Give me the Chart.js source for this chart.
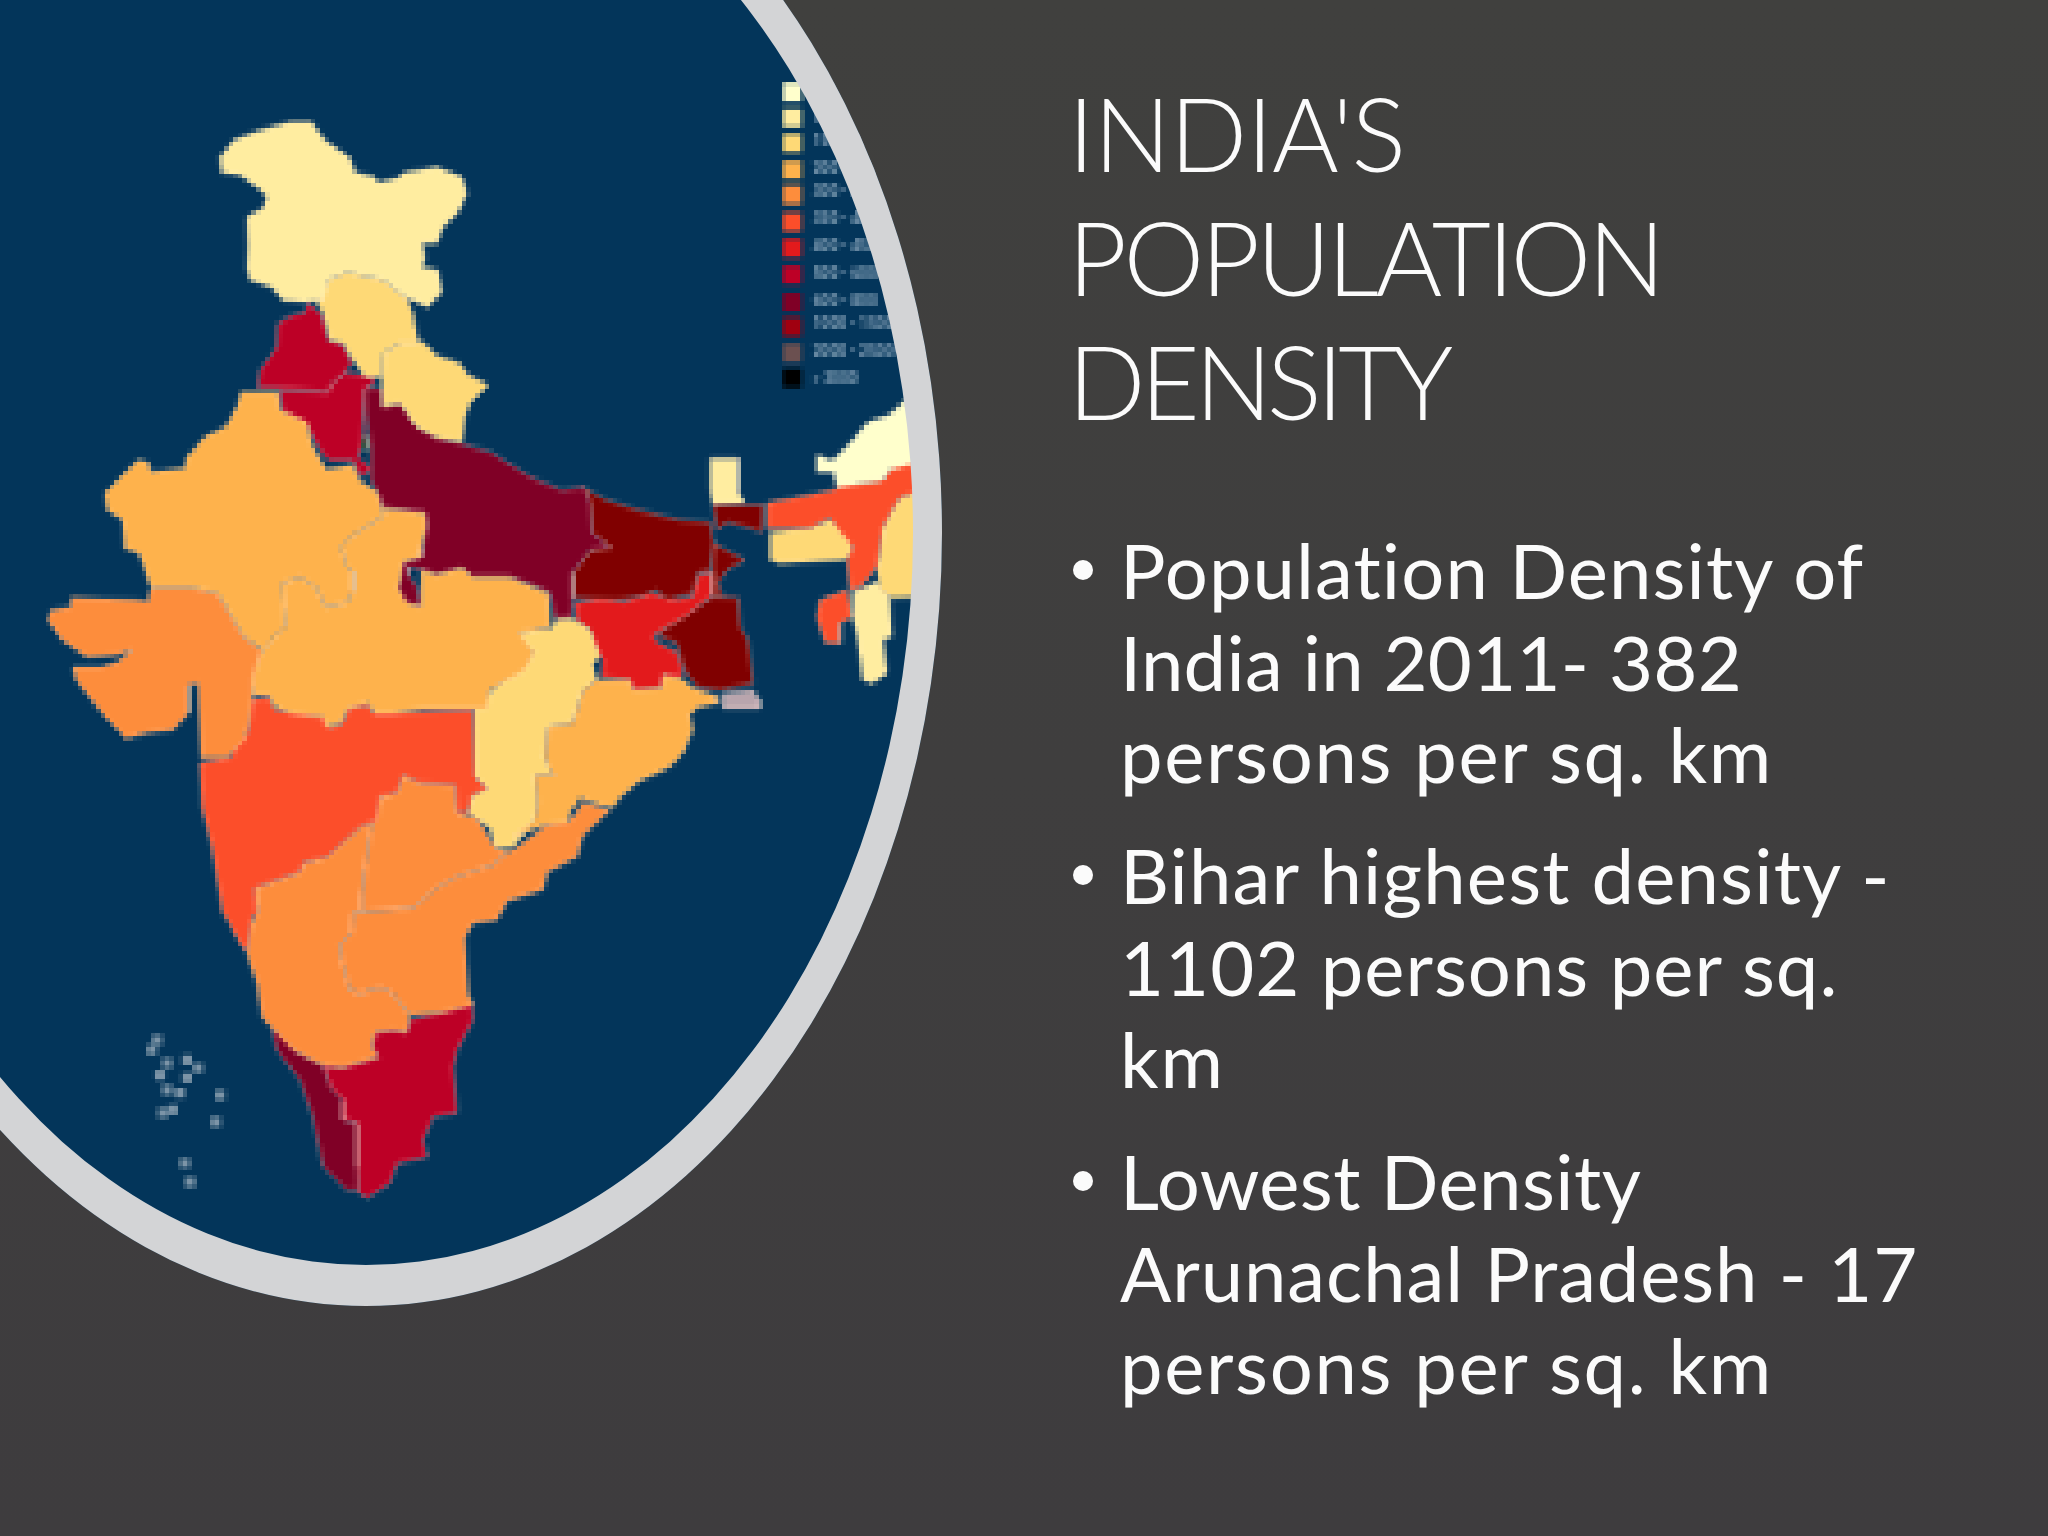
<!DOCTYPE html>
<html>
<head>
<meta charset="utf-8">
<title>India's Population Density</title>
<script src="https://cdn.jsdelivr.net/npm/chart.js@4/dist/chart.umd.min.js"></script>
<style>
  html, body { margin:0; padding:0; width:2048px; height:1536px; overflow:hidden; }
  body { position:relative; background:linear-gradient(#40403e, #3e3c3e); color:#fbfbfb; font-family:Lato, sans-serif; font-variant-ligatures:none; }
  #oval-fill, #oval-ring { position:absolute; left:-210px; top:-240px; width:1152px; height:1546px; box-sizing:border-box; border-radius:50%; }
  #oval-fill { background:#03355a; }
  #oval-ring { border-style:solid; border-color:#d3d4d6; border-width:41px 29px; pointer-events:none; }
  #map-wrap { position:absolute; left:0; top:0; width:2048px; height:1536px; clip-path:ellipse(576px 773px at 366px 533px); }
  #map { image-rendering:pixelated; filter:blur(0.7px); }
  #title { position:absolute; left:1068px; top:71px; font-size:102px; line-height:124px; font-weight:300; white-space:nowrap; }
  .bullet { position:absolute; left:1120px; font-size:76px; line-height:92px; letter-spacing:1.2px; white-space:nowrap; }
  .bullet::before { content:''; position:absolute; left:-47px; top:36px; width:20px; height:20px; border-radius:50%; background:#fbfbfb; }
</style>
</head>
<body>
<div id="oval-fill"></div>
<div id="map-wrap"><canvas id="map"></canvas></div>
<div id="oval-ring"></div>
<div id="title"><span style="letter-spacing:-0.9px">INDIA'S</span><br><span style="letter-spacing:-3.4px">POPULATION</span><br><span style="letter-spacing:-4.9px">DENSITY</span></div>
<div class="bullet" style="top:524px"><span style="letter-spacing:1.1px">Population Density of</span><br><span style="letter-spacing:.25px">India in 2011- 382</span><br><span style="letter-spacing:1.65px">persons per sq. km</span></div>
<div class="bullet" style="top:829px">Bihar highest density -<br><span style="letter-spacing:1px">1102 persons per sq.</span><br><span style="letter-spacing:2px">km</span></div>
<div class="bullet" style="top:1135px"><span style="letter-spacing:.45px">Lowest Density</span><br><span style="letter-spacing:.9px">Arunachal Pradesh - 17</span><br><span style="letter-spacing:1.65px">persons per sq. km</span></div>

<script>
// State outlines (x, y on the slide's own grid)
const rajasthan = [[241,392],[278,392],[280,410],[307,422],[312,445],[326,470],[353,465],[359,480],[378,493],[382,508],[384,515],[353,535],[341,547],[346,565],[353,572],[353,590],[348,602],[325,607],[317,587],[300,577],[282,583],[285,627],[273,638],[264,650],[244,637],[228,610],[218,593],[191,587],[151,587],[144,567],[139,553],[125,548],[123,520],[107,510],[105,493],[126,472],[137,460],[148,462],[151,472],[185,468],[187,457],[205,437],[225,427],[237,407]];
const madhyaPradesh = [[382,508],[425,513],[426,527],[421,547],[421,557],[403,562],[401,577],[398,587],[407,603],[421,607],[421,570],[437,575],[462,568],[473,577],[509,577],[548,593],[550,627],[519,633],[534,652],[525,670],[489,690],[487,708],[423,708],[394,713],[375,713],[368,703],[348,708],[341,723],[326,727],[323,717],[291,713],[273,705],[269,695],[253,695],[253,677],[262,650],[273,638],[285,627],[282,583],[300,577],[317,587],[325,607],[348,602],[353,590],[353,572],[346,565],[341,547],[353,535],[384,515]];
const gujarat = [[151,587],[191,587],[218,593],[228,610],[244,637],[262,650],[259,673],[253,695],[250,720],[244,740],[226,758],[201,758],[198,683],[189,685],[189,713],[173,730],[148,733],[126,738],[105,717],[76,680],[73,667],[101,667],[118,662],[132,650],[116,655],[87,657],[62,640],[48,620],[51,610],[71,607],[71,598],[137,600],[148,602]];
const maharashtra = [[200,763],[232,757],[235,743],[248,733],[250,700],[268,697],[275,710],[293,712],[323,715],[330,728],[343,723],[350,705],[370,705],[373,713],[473,710],[475,777],[487,788],[472,795],[468,813],[457,813],[455,785],[420,783],[403,775],[397,793],[380,797],[377,820],[360,827],[327,857],[303,863],[300,872],[255,888],[257,913],[252,918],[248,948],[243,948],[226,918],[223,913],[212,847],[202,807]];
const telangana = [[372,823],[380,797],[397,793],[403,775],[420,783],[455,785],[457,813],[477,818],[495,848],[508,853],[493,865],[457,877],[437,888],[413,908],[362,912],[362,893],[367,857]];
const andhraPradesh = [[513,850],[547,825],[570,822],[583,802],[610,810],[582,837],[577,857],[547,872],[543,890],[508,900],[497,920],[473,923],[465,937],[468,993],[473,1005],[443,1012],[410,1015],[393,993],[380,987],[360,993],[350,990],[343,963],[340,945],[352,933],[353,913],[413,908],[437,888],[457,877],[493,865],[508,853]];
const karnataka = [[255,888],[300,872],[303,863],[327,857],[360,827],[372,823],[367,857],[362,893],[362,912],[353,913],[352,933],[340,945],[343,963],[350,990],[360,993],[380,987],[393,993],[410,1015],[407,1032],[393,1030],[375,1032],[372,1047],[378,1057],[343,1067],[323,1065],[293,1050],[273,1028],[262,1018],[257,983],[247,953],[250,927],[257,913]];
const kerala = [[272,1030],[287,1037],[293,1050],[323,1065],[330,1087],[343,1100],[343,1120],[357,1123],[357,1167],[358,1190],[347,1190],[323,1167],[313,1117],[300,1080],[277,1050]];
const tamilNadu = [[323,1065],[343,1067],[378,1057],[372,1047],[375,1032],[393,1030],[407,1032],[410,1020],[440,1013],[472,1003],[473,1020],[457,1050],[453,1067],[457,1113],[433,1117],[423,1140],[427,1157],[397,1163],[390,1183],[367,1198],[358,1192],[357,1167],[357,1123],[343,1120],[343,1100],[330,1087]];
const odisha = [[597,680],[630,680],[633,690],[662,688],[663,675],[680,678],[693,688],[718,697],[718,703],[697,707],[690,715],[693,730],[683,753],[670,767],[653,775],[640,780],[620,798],[613,807],[600,805],[580,798],[570,813],[567,827],[545,825],[513,837],[535,820],[538,803],[535,775],[555,775],[550,770],[545,757],[548,727],[573,723],[583,690]];
const chhattisgarh = [[557,618],[572,618],[590,630],[600,655],[593,665],[597,680],[583,690],[573,723],[548,727],[545,757],[550,770],[555,775],[535,775],[538,803],[535,820],[513,847],[495,848],[490,828],[468,813],[472,795],[487,788],[475,777],[475,710],[492,690],[523,663],[533,652],[515,640],[520,632],[552,628]];
const jammuKashmir = [[220,158],[233,140],[260,130],[290,122],[312,122],[325,140],[350,158],[355,172],[375,177],[378,183],[397,178],[405,172],[437,167],[462,177],[467,193],[458,213],[443,227],[437,243],[422,243],[425,257],[422,267],[438,270],[442,293],[427,307],[413,300],[407,298],[383,280],[347,272],[328,280],[323,300],[303,302],[283,300],[273,288],[250,280],[247,267],[248,247],[247,217],[263,208],[267,197],[257,187],[240,175],[222,173]];
const himachal = [[328,280],[347,272],[383,280],[400,293],[407,298],[413,313],[418,343],[400,343],[383,353],[382,377],[365,377],[353,360],[343,343],[330,340],[323,313],[317,302]];
const uttarakhand = [[383,353],[400,343],[422,342],[437,355],[460,363],[468,375],[488,385],[470,403],[465,417],[462,442],[437,438],[417,427],[400,403],[383,407],[382,377]];
const uttarPradesh = [[365,388],[382,388],[383,407],[400,403],[417,427],[437,438],[459,443],[491,452],[530,477],[562,490],[584,487],[590,503],[592,533],[610,547],[590,550],[573,573],[573,598],[572,617],[555,618],[550,593],[533,585],[509,577],[473,577],[462,568],[437,575],[423,570],[409,567],[409,575],[417,587],[421,607],[401,603],[398,587],[403,562],[421,557],[426,527],[425,513],[382,508],[378,493],[371,480],[371,447],[366,413]];
const punjab = [[308,303],[322,315],[328,340],[343,345],[352,362],[345,373],[330,385],[328,392],[290,388],[258,387],[260,370],[277,347],[278,323],[293,315],[305,313]];
const haryana = [[345,373],[375,377],[373,385],[365,388],[362,443],[358,457],[372,470],[360,477],[353,460],[330,460],[323,455],[308,427],[295,418],[283,413],[280,390],[328,392],[330,385]];
const delhi = [[359,437],[369,437],[369,449],[359,449]];
const bihar = [[583,488],[607,500],[637,510],[680,520],[710,522],[713,543],[710,570],[698,573],[693,593],[667,600],[657,590],[640,597],[617,600],[573,598],[573,573],[590,550],[610,547],[592,533],[590,503]];
const jharkhand = [[575,603],[603,598],[623,602],[650,593],[677,600],[693,597],[698,575],[712,573],[712,595],[687,615],[653,635],[657,642],[677,652],[683,673],[680,678],[663,675],[662,688],[633,690],[630,680],[602,677],[603,660],[595,647],[590,630],[577,620]];
const bengalSouth = [[657,635],[673,623],[703,603],[713,597],[738,598],[740,627],[748,640],[753,683],[720,690],[697,687],[683,667],[677,643]];
const bengalMiddle = [[713,543],[745,560],[727,570],[718,583],[723,597],[713,597],[713,570]];
const bengalNorth = [[713,505],[763,505],[762,532],[750,528],[727,522],[717,530]];
const sundarbans = [[723,694],[753,690],[760,700],[760,708],[723,708]];
const sikkim = [[710,458],[738,458],[738,493],[745,503],[713,505],[710,490]];
const arunachal = [[817,455],[832,460],[850,443],[868,422],[890,415],[905,400],[925,400],[925,460],[890,470],[883,480],[837,487],[833,472],[817,472]];
const assam = [[767,503],[793,498],[833,490],[840,485],[883,480],[890,470],[908,455],[925,455],[925,490],[900,497],[883,527],[877,567],[860,587],[850,590],[847,560],[853,547],[837,528],[830,518],[810,528],[790,528],[767,528]];
const meghalaya = [[770,532],[810,528],[830,520],[850,533],[853,553],[843,560],[780,563],[770,560]];
const nagaland = [[925,490],[900,497],[883,527],[877,570],[880,590],[893,598],[925,597]];
const mizoram = [[853,592],[877,582],[890,597],[892,637],[883,640],[887,673],[872,683],[863,680],[858,640],[853,617]];
const tripura = [[820,600],[847,590],[852,617],[840,623],[840,643],[825,642],[817,617]];
const lakshadweep = [[157,1040],[152,1050],[167,1063],[187,1060],[198,1068],[160,1075],[167,1090],[187,1078],[180,1093],[173,1110],[163,1113],[220,1095],[216,1122],[185,1163],[190,1182]];

// Legend
const legendColors = ['#ffffcc','#ffeda0','#fed976','#feb24c','#fd8d3c','#fc4e2a','#e31a1c','#bd0026','#800026','#a00010','#6b5050','#000000'];
const legendLabels = ['< 100','100 - 150','150 - 200','200 - 300','300 - 350','350 - 400','400 - 450','500 - 600','600 - 800','1000 - 1500','2000 - 2500','> 3000'];
const legendY = [92,118,143,170,195,222,248,275,302,327,353,378];
const legendX = 792;

const pts = arr => arr.map(p => ({ x:p[0], y:p[1] }));
const shape = (arr, color) => ({
  data: pts(arr.concat([arr[0]])), showLine:true, fill:'shape', backgroundColor:color,
  borderColor:'rgba(255,236,220,0.32)', borderWidth:3, pointRadius:0, tension:0, clip:false,
});

// Later entries paint over earlier ones
const datasets = [
  shape(jammuKashmir, '#ffeda0'), shape(himachal, '#fed976'), shape(uttarakhand, '#fed976'),
  shape(rajasthan, '#feb24c'), shape(madhyaPradesh, '#feb24c'), shape(gujarat, '#fd8d3c'),
  shape(uttarPradesh, '#800026'), shape(punjab, '#bd0026'), shape(haryana, '#bd0026'), shape(delhi, '#0c3a2a'),
  shape(maharashtra, '#fc4e2a'), shape(andhraPradesh, '#fd8d3c'), shape(telangana, '#fd8d3c'),
  shape(karnataka, '#fd8d3c'), shape(kerala, '#800026'), shape(tamilNadu, '#bd0026'),
  shape(odisha, '#feb24c'), shape(chhattisgarh, '#fed976'),
  shape(bihar, '#800000'), shape(jharkhand, '#e31a1c'), shape(bengalSouth, '#800000'),
  shape(bengalMiddle, '#800000'), shape(bengalNorth, '#800000'), shape(sundarbans, '#b9a5ad'),
  shape(sikkim, '#ffeda0'), shape(arunachal, '#ffffcc'), shape(assam, '#fc4e2a'),
  shape(meghalaya, '#fed976'), shape(nagaland, '#fed976'), shape(mizoram, '#ffeda0'), shape(tripura, '#fc4e2a'),
  { data:pts(lakshadweep), showLine:false, pointStyle:'rect', pointRadius:7,
    backgroundColor:'rgba(176,190,200,0.7)', borderWidth:0, clip:false },
  { data:legendY.map(y => ({ x:legendX, y })), showLine:false, pointStyle:'rect', pointRadius:13,
    backgroundColor:legendColors, borderWidth:0, clip:false },
];

// Legend captions sit beside the swatches, on the same scales
const legendText = {
  id:'legendText',
  afterDatasetsDraw(chart) {
    const { ctx, scales:{ x, y } } = chart;
    ctx.save();
    ctx.fillStyle = '#84a0b6';
    ctx.font = '700 15px Roboto, sans-serif';
    ctx.textBaseline = 'middle';
    legendLabels.forEach((label, i) => ctx.fillText(label, x.getPixelForValue(812), y.getPixelForValue(legendY[i])));
    ctx.restore();
  },
};

new Chart(document.getElementById('map').getContext('2d'), {
  type:'scatter',
  data:{ datasets },
  plugins:[legendText],
  options:{
    responsive:true, maintainAspectRatio:false, animation:false,
    devicePixelRatio:0.21875, // the map is a low-res raster blown up on the slide
    layout:{ padding:0, autoPadding:false },
    events:[],
    plugins:{ legend:{ display:false }, tooltip:{ enabled:false }, title:{ display:false } },
    scales:{
      x:{ type:'linear', display:false, min:0, max:2048 },
      y:{ type:'linear', display:false, min:0, max:1536, reverse:true },
    },
  },
});
</script>
</body>
</html>
